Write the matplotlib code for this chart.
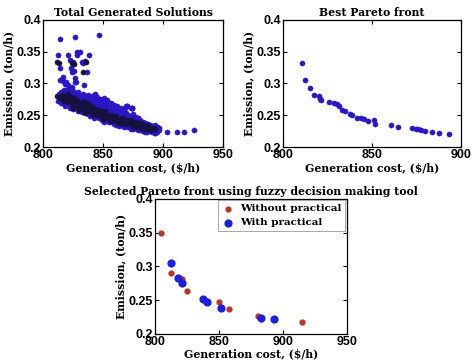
import numpy as np
import matplotlib
matplotlib.use("Agg")
import matplotlib.pyplot as plt

# ---- Total generated solutions (read off the cloud, approximate) ----
# light blue points
all_cost = [814.2, 826.7, 847.0, 812.8, 821.1, 830.8, 828.0, 838.3, 828.6, 822.5,
            825.3, 832.2, 835.0, 833.6, 814.2, 823.3, 826.1, 823.9, 836.4, 814.2,
            816.9, 818.3, 821.1, 827.2, 834.4, 823.9, 817.0, 826.7, 826.7, 819.0,
            822.5, 818.3, 829.4, 843.3, 853.0, 861.4, 868.3, 873.9, 869.7, 874.4,
            813.4, 813.1, 812.7, 815.3, 814.8, 815.6, 815.1, 817.2, 816.8, 817.4,
            816.6, 819.3, 818.8, 819.1, 819.5, 818.7, 821.2, 820.7, 821.4, 821.0,
            823.1, 822.8, 823.3, 822.6, 825.2, 824.8, 825.4, 825.0, 824.7, 827.1,
            826.8, 827.3, 826.6, 829.2, 828.9, 829.4, 828.7, 829.1, 831.0, 830.7,
            831.3, 830.9, 833.2, 832.8, 833.4, 833.0, 832.7, 835.1, 834.8, 835.3,
            835.0, 837.2, 836.9, 837.1, 836.8, 837.4, 839.0, 838.7, 839.3, 838.9,
            839.2, 841.1, 840.8, 841.3, 840.9, 841.2, 843.0, 842.7, 843.3, 842.9,
            843.1, 842.8, 845.2, 844.9, 845.1, 844.8, 845.3, 847.1, 846.8, 847.2,
            846.9, 847.0, 849.0, 848.8, 849.2, 848.9, 849.1, 851.1, 850.8, 851.3,
            850.9, 851.2, 850.7, 853.0, 852.8, 853.2, 852.9, 853.1, 855.1, 854.8,
            855.2, 854.9, 855.0, 857.0, 856.8, 857.2, 856.9, 857.1, 859.1, 858.8,
            859.0, 858.9, 859.2, 861.0, 860.8, 861.2, 860.9, 861.1, 863.0, 862.8,
            863.2, 862.9, 863.1, 865.1, 864.8, 865.0, 864.9, 865.2, 867.0, 866.8,
            867.2, 866.9, 867.1, 869.0, 868.8, 869.2, 868.9, 869.1, 871.1, 870.8,
            871.0, 870.9, 873.0, 872.8, 873.2, 872.9, 873.1, 875.1, 874.8, 875.0,
            874.9, 875.2, 877.0, 876.8, 877.2, 876.9, 879.1, 878.8, 879.0, 878.9,
            881.0, 880.8, 881.2, 880.9, 883.1, 882.8, 883.0, 882.9, 885.0, 884.8,
            885.2, 884.9, 887.1, 886.8, 887.0, 886.9, 889.0, 888.8, 889.2, 891.1,
            890.8, 891.0, 893.0, 892.8, 893.2, 892.9, 895.1, 894.8, 895.0, 897.0,
            896.8, 869.7, 874.4, 868.3, 876.7, 879.4, 885.0, 894.7, 896.1, 893.3,
            903.6, 911.9, 917.8, 926.1]
all_emis = [0.370, 0.373, 0.377, 0.345, 0.345, 0.349, 0.345, 0.345, 0.349, 0.337,
            0.334, 0.334, 0.336, 0.332, 0.325, 0.325, 0.319, 0.318, 0.318, 0.306,
            0.304, 0.299, 0.298, 0.303, 0.298, 0.295, 0.311, 0.308, 0.303, 0.302,
            0.292, 0.287, 0.285, 0.282, 0.274, 0.264, 0.262, 0.261, 0.265, 0.262,
            0.283, 0.278, 0.272, 0.286, 0.279, 0.274, 0.269, 0.290, 0.281, 0.276,
            0.270, 0.287, 0.283, 0.275, 0.268, 0.264, 0.291, 0.279, 0.273, 0.266,
            0.285, 0.277, 0.270, 0.262, 0.288, 0.281, 0.274, 0.266, 0.260, 0.284,
            0.276, 0.269, 0.262, 0.286, 0.279, 0.271, 0.264, 0.257, 0.281, 0.274,
            0.266, 0.259, 0.283, 0.276, 0.269, 0.262, 0.255, 0.280, 0.272, 0.265,
            0.258, 0.282, 0.275, 0.267, 0.260, 0.252, 0.278, 0.270, 0.263, 0.256,
            0.249, 0.281, 0.273, 0.266, 0.258, 0.250, 0.283, 0.276, 0.268, 0.261,
            0.253, 0.246, 0.279, 0.271, 0.263, 0.256, 0.248, 0.276, 0.268, 0.260,
            0.252, 0.245, 0.274, 0.265, 0.257, 0.250, 0.243, 0.277, 0.269, 0.261,
            0.254, 0.246, 0.240, 0.272, 0.264, 0.256, 0.248, 0.242, 0.268, 0.259,
            0.252, 0.245, 0.239, 0.270, 0.262, 0.254, 0.247, 0.240, 0.266, 0.257,
            0.250, 0.243, 0.237, 0.263, 0.255, 0.248, 0.241, 0.235, 0.259, 0.252,
            0.245, 0.238, 0.233, 0.262, 0.254, 0.247, 0.240, 0.234, 0.257, 0.250,
            0.243, 0.237, 0.232, 0.265, 0.253, 0.246, 0.239, 0.233, 0.250, 0.244,
            0.238, 0.231, 0.261, 0.248, 0.241, 0.235, 0.229, 0.252, 0.245, 0.239,
            0.233, 0.228, 0.248, 0.242, 0.236, 0.230, 0.245, 0.239, 0.233, 0.227,
            0.243, 0.237, 0.231, 0.226, 0.240, 0.235, 0.229, 0.225, 0.238, 0.233,
            0.228, 0.224, 0.236, 0.231, 0.227, 0.223, 0.234, 0.229, 0.225, 0.233,
            0.228, 0.224, 0.235, 0.230, 0.226, 0.222, 0.232, 0.228, 0.224, 0.230,
            0.226, 0.265, 0.262, 0.250, 0.248, 0.245, 0.237, 0.232, 0.230, 0.222,
            0.223, 0.223, 0.223, 0.227]
# darker points in the core of the cloud
core_cost = [812.0, 813.0, 824.0, 826.0, 812.0, 814.0, 816.0, 818.0, 819.0, 821.0,
             822.0, 824.0, 826.0, 827.0, 829.0, 830.0, 832.0, 834.0, 835.0, 837.0,
             838.0, 840.0, 841.0, 843.0, 845.0, 846.0, 848.0, 850.0, 852.0, 853.0,
             855.0, 857.0, 859.0, 861.0, 862.0, 864.0, 866.0, 868.0, 870.0, 872.0,
             874.0, 876.0, 878.0, 880.0, 882.0, 885.0, 888.0, 820.0, 823.0, 828.0,
             831.0, 836.0, 839.0, 844.0, 847.0, 849.0, 854.0, 858.0, 863.0, 867.0,
             871.0, 875.0, 879.0, 884.0, 886.0, 890.0, 815.5, 817.5, 820.5, 822.5,
             825.5, 828.5, 833.5, 836.5, 839.5, 842.5, 845.5, 848.5, 851.5, 856.5,
             860.5, 865.5, 869.5, 873.5, 877.5, 881.5, 883.5, 887.5, 891.5, 893.5,
             825.0, 830.0, 835.0, 842.0, 850.0, 857.0, 836.0, 833.0]
core_emis = [0.334, 0.333, 0.333, 0.331, 0.281, 0.277, 0.279, 0.275, 0.280, 0.271,
             0.276, 0.268, 0.273, 0.266, 0.269, 0.262, 0.267, 0.263, 0.258, 0.262,
             0.256, 0.259, 0.254, 0.257, 0.251, 0.255, 0.249, 0.252, 0.246, 0.250,
             0.244, 0.248, 0.242, 0.245, 0.240, 0.243, 0.238, 0.241, 0.236, 0.239,
             0.234, 0.237, 0.232, 0.235, 0.230, 0.233, 0.229, 0.278, 0.274, 0.270,
             0.265, 0.265, 0.260, 0.255, 0.258, 0.253, 0.247, 0.245, 0.238, 0.236,
             0.241, 0.231, 0.236, 0.228, 0.232, 0.227, 0.282, 0.273, 0.283, 0.279,
             0.277, 0.274, 0.271, 0.269, 0.266, 0.262, 0.259, 0.256, 0.256, 0.251,
             0.249, 0.246, 0.243, 0.243, 0.240, 0.238, 0.234, 0.234, 0.230, 0.228,
             0.262, 0.258, 0.254, 0.250, 0.244, 0.241, 0.334, 0.318]

# ---- Best Pareto front ----
pareto_cost = [810.9, 812.4, 815.2, 817.6, 820.0, 820.8, 821.4, 825.9, 828.5, 830.2,
               831.5, 833.0, 834.7, 837.9, 839.0, 841.4, 843.7, 845.6, 848.0, 851.0,
               851.6, 860.8, 864.7, 872.4, 874.6, 875.8, 877.6, 879.7, 884.0, 887.8,
               893.1]
pareto_emis = [0.333, 0.305, 0.293, 0.282, 0.281, 0.276, 0.274, 0.271, 0.269, 0.267,
               0.264, 0.259, 0.257, 0.252, 0.251, 0.246, 0.246, 0.244, 0.241, 0.242,
               0.237, 0.235, 0.231, 0.230, 0.229, 0.228, 0.226, 0.225, 0.223, 0.222,
               0.220]

# ---- Selected Pareto front (fuzzy decision making) ----
without_cost = [804.7, 812.6, 821.0, 825.3, 850.3, 857.9, 880.3, 915.0]
without_emis = [0.350, 0.2905, 0.2816, 0.2637, 0.248, 0.237, 0.2266, 0.218]
with_cost = [812.6, 817.6, 821.3, 837.6, 841.0, 851.3, 883.2, 892.7]
with_emis = [0.3053, 0.283, 0.2756, 0.2523, 0.2474, 0.239, 0.224, 0.2217]

serif = {"family": "DejaVu Serif", "weight": "bold"}
blue = "#2a16c4"
dark = "#17113f"


def style(ax, xlim, xticks):
    ax.set_xlim(*xlim)
    ax.set_ylim(0.2, 0.4)
    ax.set_xticks(xticks)
    ax.set_yticks([0.2, 0.25, 0.3, 0.35, 0.4])
    ax.set_yticklabels(["0.2", "0.25", "0.3", "0.35", "0.4"])
    ax.tick_params(direction="in", top=True, right=True, length=3, width=0.8, pad=1.5)
    for lab in ax.get_xticklabels() + ax.get_yticklabels():
        lab.set_fontfamily("Liberation Sans")
        lab.set_fontweight("bold")
        lab.set_fontsize(9)
    for s in ax.spines.values():
        s.set_linewidth(0.9)
    ax.set_xlabel("Generation cost, ($/h)", fontsize=7.8, labelpad=0.5, **serif)
    ax.set_ylabel("Emission, (ton/h)", fontsize=7.8, labelpad=1.5, **serif)


fig = plt.figure(figsize=(4.74, 3.63), dpi=100)

ax1 = fig.add_axes([0.0907, 0.595, 0.38, 0.35])
ax1.scatter(all_cost, all_emis, s=14, color=blue, edgecolors=blue, linewidths=0.3, zorder=2)
ax1.scatter(core_cost, core_emis, s=14, color=dark, edgecolors=dark, linewidths=0.3, zorder=3)
style(ax1, (800, 950), [800, 850, 900, 950])
ax1.set_title("Total Generated Solutions", fontsize=7.8, pad=3, **serif)

ax2 = fig.add_axes([0.597, 0.595, 0.3755, 0.35])
ax2.scatter(pareto_cost, pareto_emis, s=14, color=blue, edgecolors=blue, linewidths=0.3)
style(ax2, (800, 900), [800, 850, 900])
ax2.set_title("Best Pareto front", fontsize=7.8, pad=3, **serif)

ax3 = fig.add_axes([0.327, 0.08, 0.405, 0.372])
ax3.scatter(without_cost, without_emis, s=12, color="#b8342a", label="Without practical", zorder=2)
ax3.scatter(with_cost, with_emis, s=24, color="#1c1ee0", label="With practical", zorder=3)
style(ax3, (800, 950), [800, 850, 900, 950])
ax3.set_title("Selected Pareto front using fuzzy decision making tool", fontsize=7.8, pad=3, **serif)
leg = ax3.legend(loc="upper right", prop={"family": "DejaVu Serif", "weight": "bold", "size": 7.5},
                 fancybox=False, edgecolor="#999999", framealpha=1, handletextpad=0.6,
                 borderpad=0.35, labelspacing=0.45, borderaxespad=0.15, handlelength=1.2)
leg.get_frame().set_linewidth(0.6)

fig.savefig("out.png", dpi=100)
